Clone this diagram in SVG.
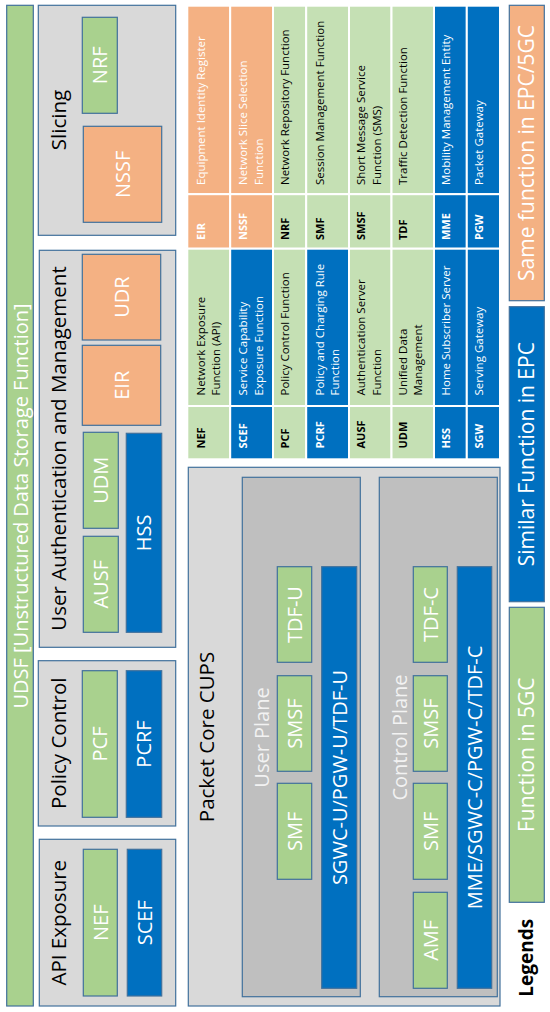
<svg xmlns="http://www.w3.org/2000/svg" width="550" height="1012" viewBox="0 0 550 1012">
<style>
text{font-family:"Open Sans","Noto Sans","Liberation Sans",sans-serif}
.box{stroke:#41719C;stroke-width:1.2}
.grey{fill:#D9D9D9}
.dgrey{fill:#BFBFBF}
.g{fill:#A9D18E}
.b{fill:#0070C0}
.o{fill:#F4B183}
.title{font-size:20.5px;fill:#000;text-anchor:middle}
.lbl{font-size:20px;fill:#fff;text-anchor:middle}
.plane{font-size:20px;fill:#F2F2F2;text-anchor:middle}
.leg{font-size:21px;fill:#fff;text-anchor:middle}
.cell{stroke:#fff;stroke-width:2}
.tg{fill:#C5E0B4}
.to{fill:#F4B183}
.tb{fill:#0070C0}
.ab{font-size:11px;font-weight:bold}
.ds{font-size:11.5px}
.k{fill:#000}
.w{fill:#fff}
</style>

<g id="udsf">
<rect class="box g" x="6.7" y="5.3" width="26.6" height="1000.7"/>
<text class="lbl" transform="translate(27.5,506) rotate(-90)">UDSF [Unstructured Data Storage Function]</text>
</g>

<g id="slicing">
<rect class="box grey" x="38.3" y="5.3" width="137.4" height="230"/>
<text class="title" transform="translate(65.5,120) rotate(-90)">Slicing</text>
</g>
<g id="nrf">
<rect class="box g" x="82.3" y="17.3" width="35" height="96"/>
<text class="lbl" transform="translate(107,65.3) rotate(-90)">NRF</text>
</g>
<g id="nssf">
<rect class="box o" x="83.3" y="126.3" width="78.4" height="96"/>
<text class="lbl" transform="translate(129.8,174.3) rotate(-90)">NSSF</text>
</g>

<g id="user-auth">
<rect class="box grey" x="39.3" y="250.3" width="136.4" height="397"/>
<text class="title" transform="translate(65.5,448.5) rotate(-90)">User Authentication and Management</text>
</g>
<g id="udr">
<rect class="box o" x="82.3" y="254.3" width="78.4" height="85.7"/>
<text class="lbl" transform="translate(128.8,297) rotate(-90)">UDR</text>
</g>
<g id="eir">
<rect class="box o" x="82.3" y="345.3" width="78.4" height="80"/>
<text class="lbl" transform="translate(128.8,385.3) rotate(-90)">EIR</text>
</g>
<g id="udm">
<rect class="box g" x="83.3" y="432.3" width="35" height="96"/>
<text class="lbl" transform="translate(108,480.3) rotate(-90)">UDM</text>
</g>
<g id="ausf">
<rect class="box g" x="83.3" y="536.3" width="35" height="96"/>
<text class="lbl" transform="translate(108,584.3) rotate(-90)">AUSF</text>
</g>
<g id="hss">
<rect class="box b" x="126.3" y="433.3" width="35.4" height="199"/>
<text class="lbl" transform="translate(151.3,532.8) rotate(-90)">HSS</text>
</g>

<g id="policy-control">
<rect class="box grey" x="38.3" y="660.7" width="137.4" height="165.3"/>
<text class="title" transform="translate(65.5,743.3) rotate(-90)">Policy Control</text>
</g>
<g id="pcf">
<rect class="box g" x="82.3" y="670.7" width="35" height="146.6"/>
<text class="lbl" transform="translate(107,744) rotate(-90)">PCF</text>
</g>
<g id="pcrf">
<rect class="box b" x="126.3" y="670.7" width="35.4" height="146.6"/>
<text class="lbl" transform="translate(151.3,744) rotate(-90)">PCRF</text>
</g>

<g id="api-exposure">
<rect class="box grey" x="39.3" y="839.3" width="136.4" height="166.7"/>
<text class="title" transform="translate(65.5,922.7) rotate(-90)">API Exposure</text>
</g>
<g id="nef">
<rect class="box g" x="83.3" y="849.3" width="34" height="146.7"/>
<text class="lbl" transform="translate(107.6,922.7) rotate(-90)">NEF</text>
</g>
<g id="scef">
<rect class="box b" x="127.3" y="849.3" width="34.4" height="146.7"/>
<text class="lbl" transform="translate(151.8,922.7) rotate(-90)">SCEF</text>
</g>

<g id="packet-core">
<rect class="box grey" x="188.3" y="467.3" width="311.7" height="538.7"/>
<text class="title" transform="translate(214.3,737) rotate(-90)">Packet Core CUPS</text>
</g>
<g id="user-plane">
<rect class="box dgrey" x="242.3" y="477.3" width="118" height="519.4"/>
<text class="plane" transform="translate(268.5,737.5) rotate(-90)">User Plane</text>
</g>
<g id="smf-u">
<rect class="box g" x="277.3" y="783.3" width="34.4" height="96"/>
<text class="lbl" transform="translate(301.8,831.3) rotate(-90)">SMF</text>
</g>
<g id="smsf-u">
<rect class="box g" x="277.3" y="675.7" width="34.4" height="95.6"/>
<text class="lbl" transform="translate(301.8,723.5) rotate(-90)">SMSF</text>
</g>
<g id="tdf-u">
<rect class="box g" x="277.3" y="566.7" width="34.4" height="95.6"/>
<text class="lbl" transform="translate(301.8,614.5) rotate(-90)">TDF-U</text>
</g>
<g id="sgwc-u">
<rect class="box b" x="321.7" y="566.7" width="35" height="421.6"/>
<text class="lbl" transform="translate(346.5,777.5) rotate(-90)">SGWC-U/PGW-U/TDF-U</text>
</g>

<g id="control-plane">
<rect class="box dgrey" x="379.3" y="477.3" width="118" height="519.4"/>
<text class="plane" transform="translate(406.5,737.5) rotate(-90)">Control Plane</text>
</g>
<g id="tdf-c">
<rect class="box g" x="413.3" y="566.7" width="34" height="95.6"/>
<text class="lbl" transform="translate(437.6,614.5) rotate(-90)">TDF-C</text>
</g>
<g id="smsf-c">
<rect class="box g" x="413.3" y="675.7" width="34" height="95.6"/>
<text class="lbl" transform="translate(437.6,723.5) rotate(-90)">SMSF</text>
</g>
<g id="smf-c">
<rect class="box g" x="413.3" y="783.3" width="34" height="96"/>
<text class="lbl" transform="translate(437.6,831.3) rotate(-90)">SMF</text>
</g>
<g id="amf">
<rect class="box g" x="413.3" y="892.3" width="34" height="96"/>
<text class="lbl" transform="translate(437.6,940.3) rotate(-90)">AMF</text>
</g>
<g id="mme-c">
<rect class="box b" x="457.3" y="566.7" width="34.4" height="421.6"/>
<text class="lbl" transform="translate(481.8,777.5) rotate(-90)">MME/SGWC-C/PGW-C/TDF-C</text>
</g>

<g id="table">
<!-- upper section -->
<rect class="cell to" x="187.3" y="5.7" width="42.9" height="188.5"/>
<rect class="cell to" x="187.3" y="194.2" width="42.9" height="54.5"/>
<rect class="cell to" x="230.2" y="5.7" width="42.8" height="188.5"/>
<rect class="cell to" x="230.2" y="194.2" width="42.8" height="54.5"/>
<rect class="cell tg" x="273" y="5.7" width="33.2" height="188.5"/>
<rect class="cell tg" x="273" y="194.2" width="33.2" height="54.5"/>
<rect class="cell tg" x="306.2" y="5.7" width="42.8" height="188.5"/>
<rect class="cell tg" x="306.2" y="194.2" width="42.8" height="54.5"/>
<rect class="cell tg" x="349" y="5.7" width="42.5" height="188.5"/>
<rect class="cell tg" x="349" y="194.2" width="42.5" height="54.5"/>
<rect class="cell tg" x="391.5" y="5.7" width="42.5" height="188.5"/>
<rect class="cell tg" x="391.5" y="194.2" width="42.5" height="54.5"/>
<rect class="cell tb" x="434" y="5.7" width="32.8" height="188.5"/>
<rect class="cell tb" x="434" y="194.2" width="32.8" height="54.5"/>
<rect class="cell tb" x="466.8" y="5.7" width="33.2" height="188.5"/>
<rect class="cell tb" x="466.8" y="194.2" width="33.2" height="54.5"/>
<!-- lower section -->
<rect class="cell tg" x="187.3" y="248.7" width="42.9" height="157.3"/>
<rect class="cell tg" x="187.3" y="406" width="42.9" height="53.3"/>
<rect class="cell tb" x="230.2" y="248.7" width="42.8" height="157.3"/>
<rect class="cell tb" x="230.2" y="406" width="42.8" height="53.3"/>
<rect class="cell tg" x="273" y="248.7" width="33.2" height="157.3"/>
<rect class="cell tg" x="273" y="406" width="33.2" height="53.3"/>
<rect class="cell tb" x="306.2" y="248.7" width="42.8" height="157.3"/>
<rect class="cell tb" x="306.2" y="406" width="42.8" height="53.3"/>
<rect class="cell tg" x="349" y="248.7" width="42.5" height="157.3"/>
<rect class="cell tg" x="349" y="406" width="42.5" height="53.3"/>
<rect class="cell tg" x="391.5" y="248.7" width="42.5" height="157.3"/>
<rect class="cell tg" x="391.5" y="406" width="42.5" height="53.3"/>
<rect class="cell tb" x="434" y="248.7" width="32.8" height="157.3"/>
<rect class="cell tb" x="434" y="406" width="32.8" height="53.3"/>
<rect class="cell tb" x="466.8" y="248.7" width="33.2" height="157.3"/>
<rect class="cell tb" x="466.8" y="406" width="33.2" height="53.3"/>

<!-- upper texts -->
<text class="ab w" transform="translate(204.5,240) rotate(-90)">EIR</text>
<text class="ds w" transform="translate(204.5,185) rotate(-90)">Equipment Identity Register</text>
<text class="ab w" transform="translate(247,240) rotate(-90)">NSSF</text>
<text class="ds w" transform="translate(247,185) rotate(-90)">Network Slice Selection</text>
<text class="ds w" transform="translate(262.5,185) rotate(-90)">Function</text>
<text class="ab k" transform="translate(289,240) rotate(-90)">NRF</text>
<text class="ds k" transform="translate(289,185) rotate(-90)">Network Repository Function</text>
<text class="ab k" transform="translate(323.5,240) rotate(-90)">SMF</text>
<text class="ds k" transform="translate(323.5,185) rotate(-90)">Session Management Function</text>
<text class="ab k" transform="translate(365,240) rotate(-90)">SMSF</text>
<text class="ds k" transform="translate(365,185) rotate(-90)">Short Message Service</text>
<text class="ds k" transform="translate(380.5,185) rotate(-90)">Function (SMS)</text>
<text class="ab k" transform="translate(407,240) rotate(-90)">TDF</text>
<text class="ds k" transform="translate(407,185) rotate(-90)">Traffic Detection Function</text>
<text class="ab w" transform="translate(449.5,240) rotate(-90)">MME</text>
<text class="ds w" transform="translate(449.5,185) rotate(-90)">Mobility Management Entity</text>
<text class="ab w" transform="translate(482.5,240) rotate(-90)">PGW</text>
<text class="ds w" transform="translate(482.5,185) rotate(-90)">Packet Gateway</text>

<!-- lower texts -->
<text class="ab k" transform="translate(204.5,448.5) rotate(-90)">NEF</text>
<text class="ds k" transform="translate(204.5,395.5) rotate(-90)">Network Exposure</text>
<text class="ds k" transform="translate(220,395.5) rotate(-90)">Function (API)</text>
<text class="ab w" transform="translate(247,448.5) rotate(-90)">SCEF</text>
<text class="ds w" transform="translate(247,395.5) rotate(-90)">Service Capability</text>
<text class="ds w" transform="translate(262.5,395.5) rotate(-90)">Exposure Function</text>
<text class="ab k" transform="translate(289,448.5) rotate(-90)">PCF</text>
<text class="ds k" transform="translate(289,395.5) rotate(-90)">Policy Control Function</text>
<text class="ab w" transform="translate(323.5,448.5) rotate(-90)">PCRF</text>
<text class="ds w" transform="translate(323.5,395.5) rotate(-90)">Policy and Charging Rule</text>
<text class="ds w" transform="translate(339,395.5) rotate(-90)">Function</text>
<text class="ab k" transform="translate(365,448.5) rotate(-90)">AUSF</text>
<text class="ds k" transform="translate(365,395.5) rotate(-90)">Authentication Server</text>
<text class="ds k" transform="translate(380.5,395.5) rotate(-90)">Function</text>
<text class="ab k" transform="translate(407,448.5) rotate(-90)">UDM</text>
<text class="ds k" transform="translate(407,395.5) rotate(-90)">Unified Data</text>
<text class="ds k" transform="translate(421.5,395.5) rotate(-90)">Management</text>
<text class="ab w" transform="translate(449.5,448.5) rotate(-90)">HSS</text>
<text class="ds w" transform="translate(449.5,395.5) rotate(-90)">Home Subscriber Server</text>
<text class="ab w" transform="translate(482.5,448.5) rotate(-90)">SGW</text>
<text class="ds w" transform="translate(482.5,395.5) rotate(-90)">Serving Gateway</text>
</g>

<g id="legend-same">
<rect class="box o" x="509.3" y="5.3" width="35" height="295.4"/>
<text class="leg" transform="translate(534.3,153) rotate(-90)">Same function in EPC/5GC</text>
</g>
<g id="legend-similar">
<rect class="box b" x="509.3" y="306.7" width="35" height="295"/>
<text class="leg" transform="translate(534.3,454.2) rotate(-90)">Similar Function in EPC</text>
</g>
<g id="legend-5gc">
<rect class="box g" x="509.3" y="607.3" width="35" height="295"/>
<text class="leg" transform="translate(534.3,754.8) rotate(-90)">Function in 5GC</text>
</g>
<g id="legends-title">
<text transform="translate(533,996.7) rotate(-90)" style="font-size:19px;font-weight:bold;fill:#000">Legends</text>
</g>
</svg>
